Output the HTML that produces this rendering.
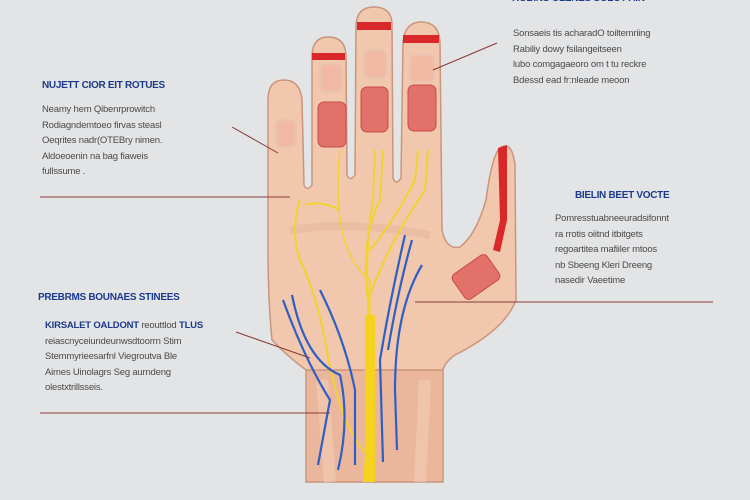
<!DOCTYPE html>
<html><head><meta charset="utf-8"><style>
body{margin:0;width:750px;height:500px;background:#e3e4e6;overflow:hidden;font-family:"Liberation Sans",sans-serif}
svg{position:absolute;left:0;top:0}
.t{position:absolute;font-size:9.5px;line-height:15.5px;color:#4a4a4a;white-space:nowrap;letter-spacing:-0.2px}
.h{position:absolute;font-size:10px;font-weight:bold;color:#1c3a8c;white-space:nowrap;letter-spacing:-0.3px}
</style></head><body>
<svg width="750" height="500" viewBox="0 0 750 500">
<!-- wrist -->
<path d="M306 370 L306 482 L443 482 L443 365 Z" fill="#ebb79c" stroke="#c9957c" stroke-width="1.5"/>
<path d="M322 380 L330 482 M425 380 L420 482" stroke="#f3cdb7" stroke-width="12" fill="none" opacity=".6"/>
<!-- hand -->
<path d="M268 100 Q268 80 284 80 Q300 80 302 100 L304 185 Q307 192 312 185 L312 55 Q313 37 328 37 Q345 37 346 55 L347 175 Q350 182 355 175 L356 25 Q357 7 374 7 Q392 7 392 25 L393 178 Q396 186 401 178 L403 42 Q405 22 421 22 Q439 22 440 42 L442 230 Q446 250 460 247 Q476 235 486 200 Q492 155 500 148 Q512 140 515 165 L516 300 Q505 330 455 355 Q445 362 443 370 L306 370 Q286 355 272 340 Q268 300 268 250 Z" fill="#f1c8ae" stroke="#c9957c" stroke-width="1.5"/>
<path d="M290 230 Q350 220 430 235" stroke="#e6b39a" stroke-width="8" fill="none" opacity=".5"/>
<!-- finger pads -->
<g fill="#f2b9a4" stroke="#e8c3b0" stroke-width="2">
<rect x="276" y="120" width="20" height="27" rx="5"/>
<rect x="320" y="64" width="22" height="28" rx="5"/>
<rect x="364" y="50" width="22" height="28" rx="5"/>
<rect x="410" y="55" width="24" height="27" rx="5"/>
</g>
<g fill="#e2716a" stroke="#c94b48" stroke-width="1">
<rect x="318" y="102" width="28" height="45" rx="6"/>
<rect x="361" y="87" width="27" height="45" rx="6"/>
<rect x="408" y="85" width="28" height="46" rx="6"/>
<rect x="455" y="262" width="42" height="30" rx="5" transform="rotate(-35 476 277)"/>
</g>
<g fill="#d8282a">
<rect x="312" y="53" width="33" height="7"/>
<rect x="357" y="22" width="34" height="8"/>
<rect x="403" y="35" width="36" height="8"/>
<path d="M498 148 L507 145 L507 220 L500 252 L493 250 L500 220 Z"/>
</g>
<!-- nerves -->
<g stroke="#f2d230" fill="none" stroke-width="2">
<path d="M368 480 L368 300 Q365 250 373 200 L375 150"/>
<path d="M368 300 Q360 240 380 200 L383 150"/>
<path d="M368 300 Q390 240 425 190 L428 150"/>
<path d="M370 250 Q395 220 415 180 L418 150"/>
<path d="M370 440 L370 280 Q330 250 340 150" stroke-width="1.5"/>
<path d="M368 455 Q340 430 325 340 Q315 290 300 260 Q290 230 300 200"/>
<path d="M340 210 Q320 200 305 205"/>
</g>
<path d="M365 455 L365 315 L375 315 L375 482 L363 482 Z" fill="#f4d21e"/>
<!-- veins -->
<g stroke="#2e5fc4" fill="none" stroke-width="2.2">
<path d="M292 295 Q305 360 340 375 Q350 420 338 470"/>
<path d="M320 290 Q345 340 355 390 L355 465"/>
<path d="M283 300 Q305 360 330 400 L318 465"/>
<path d="M405 235 Q390 300 380 360 L383 462"/>
<path d="M422 265 Q395 310 395 390 L397 450"/>
<path d="M412 240 Q398 290 388 350"/>
</g>
<g stroke="#8a3a36" stroke-width="1" fill="none">
<line x1="40" y1="197" x2="290" y2="197"/>
<line x1="232" y1="127" x2="278" y2="153"/>
<line x1="415" y1="302" x2="713" y2="302"/>
<line x1="40" y1="413" x2="330" y2="413"/>
<line x1="236" y1="332" x2="310" y2="358"/>
<line x1="433" y1="70" x2="497" y2="43"/>
</g>
</svg>
<div class="h" style="left:42px;top:80px">NUJETT CIOR EIT ROTUES</div>
<div class="t" style="left:42px;top:102px">Neamy hem Qibenrprowitch<br>Rodiagndemtoeo firvas steasl<br>Oeqrites nadr(OTEBry nimen.<br>Aldoeoenin na bag fiaweis<br>fullssume .</div>
<div class="h" style="left:512px;top:-7px">ROBINS OLENES SOLOT AIN</div>
<div class="t" style="left:513px;top:26px">Sonsaeis tis acharadO toiltemriing<br>Rabiliy dowy fsilangeitseen<br>lubo comgagaeoro om t tu reckre<br>Bdessd ead fr:nleade meoon</div>
<div class="h" style="left:575px;top:190px">BIELIN BEET VOCTE</div>
<div class="t" style="left:555px;top:211px">Pomresstuabneeuradsifonnt<br>ra rrotis oiitnd itbitgets<br>regoartitea mafiiler mtoos<br>nb Sbeeng Kleri Dreeng<br>nasedir Vaeetime</div>
<div class="h" style="left:38px;top:292px">PREBRMS BOUNAES STINEES</div>
<div class="t" style="left:45px;top:318px"><b style="color:#1c3a8c">KIRSALET OALDONT</b> reouttlod <b style="color:#1c3a8c">TLUS</b><br>reiascnyceiundeunwsdtoorrn Stim<br>Stemmyrieesarfnl Viegroutva Ble<br>Aimes Uinolagrs Seg aurndeng<br>olestxtrillsseis.</div>
</body></html>
